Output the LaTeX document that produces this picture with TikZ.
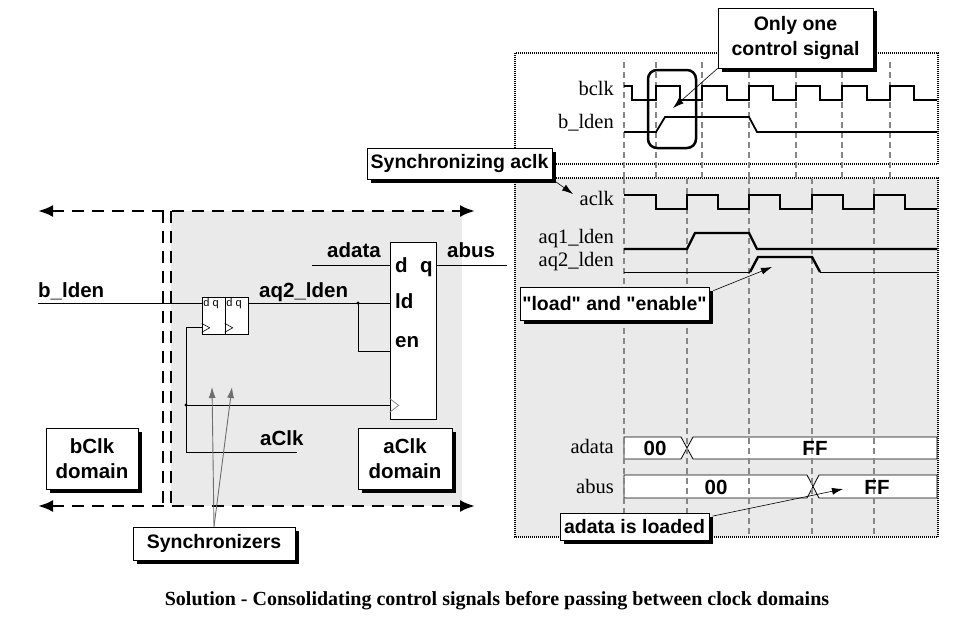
\documentclass[tikz,border=0pt]{standalone}
\usepackage{fontspec}
\setmainfont{Liberation Serif}
\setsansfont{Liberation Sans}
\usetikzlibrary{arrows.meta,shadows}
\definecolor{panelgray}{RGB}{234,234,234}
\definecolor{gridgray}{RGB}{135,135,135}
\definecolor{pointergray}{RGB}{110,110,110}
\tikzset{
  wirelbl/.style={font=\sffamily\bfseries\fontsize{20.5}{24}\selectfont, inner sep=0pt, anchor=base west},
  siglbl/.style={font=\fontsize{20.5}{24}\selectfont, inner sep=0pt, anchor=base east},
  buslbl/.style={font=\sffamily\bfseries\fontsize{20.5}{24}\selectfont, inner sep=0pt},
  callout/.style={draw, fill=white, line width=0.7pt, align=center, inner sep=0pt,
    font=\sffamily\bfseries\fontsize{19.5}{25}\selectfont,
    drop shadow={shadow xshift=3.5pt, shadow yshift=-3.5pt, opacity=1, fill=black}},
  boundary/.style={line width=2.6pt, dash pattern=on 12pt off 8pt},
  boundarrow/.style={boundary, {Latex[length=15pt,width=12pt]}-{Latex[length=15pt,width=12pt]}},
  gridline/.style={gridgray, line width=1.3pt, dash pattern=on 6pt off 4pt},
  panel/.style={line width=1.2pt, dash pattern=on 1pt off 1pt},
  wire/.style={line width=0.8pt},
  wave/.style={line width=1.8pt},
  pointer/.style={line width=0.6pt, -{Latex[length=11pt,width=7pt]}},
  ffbox/.style={draw, fill=white, line width=0.6pt, minimum width=23pt, minimum height=37pt, inner sep=0pt},
  bus/.style={draw, fill=white, line width=0.8pt},
}
\begin{document}
\begin{tikzpicture}[x=1pt, y=-1pt]
		%%%%% START %%%%%
		\useasboundingbox (0,0) rectangle (955,618);
		
		%%%%% clock domain crossing circuit %%%%%
		\fill[panelgray] (171,211) rectangle (462,506);
		\draw[boundary] (163,211) -- (163,506);
		\draw[boundary] (171,211) -- (171,506);
		\coordinate (toplft) at (38,211);
		\coordinate (toprgt) at (475,211);
		\coordinate (botlft) at (38,506);
		\coordinate (botrgt) at (475,506);
		\draw[boundarrow] (toplft) -- (toprgt);
		\draw[boundarrow] (botlft) -- (botrgt);
		
		\node[ffbox] (ffa) at (213.5,315.5) {};
		\node[ffbox] (ffb) at (236.5,315.5) {};
		\node[font=\sffamily\fontsize{11}{11}\selectfont, inner sep=0pt, anchor=north west] (ffaio) at ([xshift=1.5pt,yshift=-2pt]ffa.north west) {d q};
		\node[font=\sffamily\fontsize{11}{11}\selectfont, inner sep=0pt, anchor=north west] (ffbio) at ([xshift=1.5pt,yshift=-2pt]ffb.north west) {d q};
		\draw[line width=0.6pt] ([yshift=11pt]ffa.south west) -- ([xshift=8pt,yshift=6.5pt]ffa.south west) -- ([yshift=2pt]ffa.south west);
		\draw[line width=0.6pt] ([yshift=11pt]ffb.south west) -- ([xshift=8pt,yshift=6.5pt]ffb.south west) -- ([yshift=2pt]ffb.south west);
		
		\node[draw, fill=white, line width=0.8pt, minimum width=46pt, minimum height=177pt, inner sep=0pt] (reg) at (413,330.5) {};
		\node[wirelbl] (regd) at (395,272) {d};
		\node[wirelbl] (regq) at (420,272) {q};
		\node[wirelbl] (regld) at (395,308) {ld};
		\node[wirelbl] (regen) at (395,347) {en};
		\draw[gridgray, line width=0.8pt] ([yshift=21pt]reg.south west) -- ([xshift=9pt,yshift=14pt]reg.south west) -- ([yshift=7pt]reg.south west);
		
		\coordinate (bin) at (38,303);
		\coordinate (ldtap) at (358,303);
		\coordinate (enin) at (358,351);
		\coordinate (adin) at (312,265);
		\coordinate (busout) at (507,265);
		\coordinate (clkin) at (297,452);
		\coordinate (clkcrn) at (186,452);
		\coordinate (clktap) at (186,405);
		\coordinate (clkff) at ([yshift=6.5pt]ffa.south west);
		\draw[wire] (bin) -- (bin -| ffa.west);
		\draw[wire] (ffb.east |- bin) -- (bin -| reg.west);
		\draw[wire] (ldtap) -- (enin) -- (enin -| reg.west);
		\fill (ldtap) circle (1.6);
		\draw[wire] (adin) -- (adin -| reg.west);
		\draw[wire] (reg.east |- busout) -- (busout);
		\draw[wire] (clkin) -- (clkcrn) -- (clkcrn |- clkff) -- (clkff);
		\draw[wire] (clktap) -- (clktap -| reg.west);
		\fill (clktap) circle (1.6);
		
		\node[wirelbl] (bldenlbl) at (38,297) {b\_lden};
		\node[wirelbl] (aqlbl) at (259,297) {aq2\_lden};
		\node[wirelbl] (adatalbl) at (327,257) {adata};
		\node[wirelbl] (abuslbl) at (447,257) {abus};
		\node[wirelbl] (aclklbl) at (260,445) {aClk};
		
		\node[callout, font=\sffamily\bfseries\fontsize{20.5}{25}\selectfont, minimum width=92pt, minimum height=61pt] (bdom) at (92,458.5) {bClk\\domain};
		\node[callout, font=\sffamily\bfseries\fontsize{20.5}{25}\selectfont, minimum width=94pt, minimum height=61pt] (adom) at (405,458.5) {aClk\\domain};
		
		\node[callout, minimum width=162pt, minimum height=33pt] (syncr) at (214,543.5) {Synchronizers};
		\coordinate (synca) at (212,387);
		\coordinate (syncb) at (232,387);
		\draw[pointer, pointergray, line width=0.9pt] (syncr.north) -- (synca);
		\draw[pointer, pointergray, line width=0.9pt] (syncr.north) -- (syncb);
		
		%%%%% timing diagram %%%%%
		\fill[panelgray] (515,178) rectangle (938,537);
		\draw[panel] (515,53) rectangle (938,164);
		\draw[panel] (515,178) rectangle (938,537);
		
		\draw[bus] (624,437) -- (681,437) -- (687,448) -- (681,459) -- (624,459) -- cycle;
		\draw[bus] (937,437) -- (693,437) -- (687,448) -- (693,459) -- (937,459) -- cycle;
		\draw[bus] (624,475) -- (807,475) -- (813,486.5) -- (807,498) -- (624,498) -- cycle;
		\draw[bus] (937,475) -- (819,475) -- (813,486.5) -- (819,498) -- (937,498) -- cycle;
		
		\foreach \gx in {624,656,702,749,796,842,890}
			\draw[gridline] (\gx,62) -- (\gx,178);
		\foreach \gx in {624,687,749,812,874}
			\draw[gridline] (\gx,178) -- (\gx,537);
		
		\draw[wave] (624,86) -- (632,86) -- (632,100) -- (656,100) -- (656,86) -- (680,86) -- (680,100) -- (702,100) -- (702,86) -- (727,86) -- (727,100) -- (749,100) -- (749,86) -- (773,86) -- (773,100) -- (796,100) -- (796,86) -- (820,86) -- (820,100) -- (842,100) -- (842,86) -- (867,86) -- (867,100) -- (890,100) -- (890,86) -- (914,86) -- (914,100) -- (937,100);
		\draw[wave] (624,132) -- (656,132) -- (665,117) -- (749,117) -- (757,132) -- (937,132);
		\draw[wave] (624,195) -- (656,195) -- (656,209) -- (687,209) -- (687,195) -- (718,195) -- (718,209) -- (749,209) -- (749,195) -- (780,195) -- (780,209) -- (812,209) -- (812,195) -- (843,195) -- (843,209) -- (874,209) -- (874,195) -- (905,195) -- (905,209) -- (937,209);
		\draw[wave, line width=2.4pt] (624,249) -- (687,249) -- (695,233) -- (749,233) -- (757,249) -- (937,249);
		\draw[wire] (624,272) -- (750,272);
		\draw[wave, line width=2.4pt] (750,272) -- (758,257) -- (812,257) -- (820,272);
		\draw[wire] (820,272) -- (937,272);
		
		\node[siglbl] (bclklbl) at (614,95) {bclk};
		\node[siglbl] (bldensig) at (614,128) {b\_lden};
		\node[siglbl] (aclksig) at (614,205) {aclk};
		\node[siglbl] (aqonesig) at (614,243) {aq1\_lden};
		\node[siglbl] (aqtwosig) at (614,266) {aq2\_lden};
		\node[siglbl] (adatasig) at (614,453) {adata};
		\node[siglbl] (abussig) at (614,493) {abus};
		
		\node[buslbl] (adold) at (655,448) {00};
		\node[buslbl] (adnew) at (815,448) {FF};
		\node[buslbl] (abold) at (716,487) {00};
		\node[buslbl] (abnew) at (877,487) {FF};
		
		\draw[line width=2.5pt, rounded corners=9pt] (648,70) rectangle (696,148);
		
		%%%%% callouts %%%%%
		\node[callout, minimum width=155pt, minimum height=60pt] (onlyone) at (795.5,38) {Only one\\control signal};
		\coordinate (onetip) at (673,108);
		\draw[pointer] (onlyone.south west) -- (onetip);
		
		\node[callout, minimum width=185pt, minimum height=31pt] (syncclk) at (459.5,163.5) {Synchronizing aclk};
		\coordinate (clktip) at (573,194);
		\draw[pointer] (syncclk.south east) -- (clktip);
		
		\node[callout, minimum width=189pt, minimum height=33pt] (ldenable) at (614.5,303.5) {\textquotedbl load\textquotedbl{} and \textquotedbl enable\textquotedbl};
		\coordinate (ldtip) at (772,267);
		\draw[pointer] ([xshift=4pt,yshift=-4pt]ldenable.north east) -- (ldtip);
		
		\node[callout, minimum width=149pt, minimum height=27pt] (loaded) at (634.5,527) {adata is loaded};
		\coordinate (loadtip) at (843,489);
		\draw[pointer] ([xshift=3pt,yshift=-3pt]loaded.north east) -- (loadtip);
		
		\node[font=\bfseries\fontsize{20}{22}\selectfont, inner sep=0pt] (caption) at (497,601) {Solution - Consolidating control signals before passing between clock domains};
		%%%%% END %%%%%
\end{tikzpicture}
\end{document}
